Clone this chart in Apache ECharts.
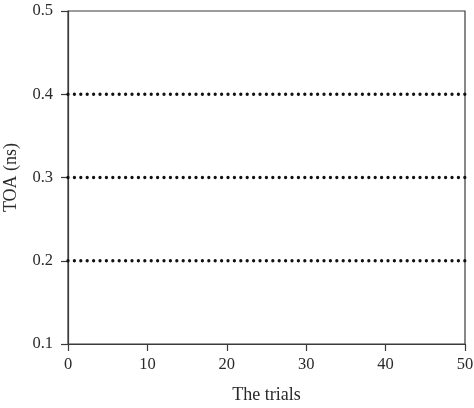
<!DOCTYPE html>
<html>
<head>
<meta charset="utf-8">
<script src="https://cdn.jsdelivr.net/npm/echarts@6/dist/echarts.min.js"></script>
<style>html,body{margin:0;padding:0;background:#fff}#c{width:474px;height:408px}</style>
</head>
<body>
<div id="c"></div>
<script>
const trials = [0,1,2,3,4,5,6,7,8,9,10,11,12,13,14,15,16,17,18,19,20,21,22,23,24,25,26,27,28,29,30,31,32,33,34,35,36,37,38,39,40,41,42,43,44,45,46,47,48,49,50];
const toaA = [0.4,0.4,0.4,0.4,0.4,0.4,0.4,0.4,0.4,0.4,0.4,0.4,0.4,0.4,0.4,0.4,0.4,0.4,0.4,0.4,0.4,0.4,0.4,0.4,0.4,0.4,0.4,0.4,0.4,0.4,0.4,0.4,0.4,0.4,0.4,0.4,0.4,0.4,0.4,0.4,0.4,0.4,0.4,0.4,0.4,0.4,0.4,0.4,0.4,0.4,0.4];
const toaB = [0.3,0.3,0.3,0.3,0.3,0.3,0.3,0.3,0.3,0.3,0.3,0.3,0.3,0.3,0.3,0.3,0.3,0.3,0.3,0.3,0.3,0.3,0.3,0.3,0.3,0.3,0.3,0.3,0.3,0.3,0.3,0.3,0.3,0.3,0.3,0.3,0.3,0.3,0.3,0.3,0.3,0.3,0.3,0.3,0.3,0.3,0.3,0.3,0.3,0.3,0.3];
const toaC = [0.2,0.2,0.2,0.2,0.2,0.2,0.2,0.2,0.2,0.2,0.2,0.2,0.2,0.2,0.2,0.2,0.2,0.2,0.2,0.2,0.2,0.2,0.2,0.2,0.2,0.2,0.2,0.2,0.2,0.2,0.2,0.2,0.2,0.2,0.2,0.2,0.2,0.2,0.2,0.2,0.2,0.2,0.2,0.2,0.2,0.2,0.2,0.2,0.2,0.2,0.2];
const xTicks = [0, 10, 20, 30, 40, 50];
const yTicks = [0.1, 0.2, 0.3, 0.4, 0.5];

const font = 'Liberation Serif';
const axisCol = '#3a3a3a';
const textCol = '#2a2a2a';
const pair = (vals) => trials.map((t, i) => [t, vals[i]]);
const dotted = (vals) => ({
  type: 'line', data: pair(vals), showSymbol: false, silent: true,
  lineStyle: { color: '#111', width: 3.3, type: [0, 6.4], cap: 'round' }
});

const chart = echarts.init(document.getElementById('c'), null, { renderer: 'canvas' });
chart.setOption({
  animation: false,
  grid: { left: 68, right: 9, top: 11, bottom: 64, containLabel: false, outerBoundsMode: 'none', show: true, borderColor: axisCol, borderWidth: 1.2, backgroundColor: 'transparent' },
  xAxis: {
    type: 'value', min: xTicks[0], max: xTicks[xTicks.length - 1], interval: 10,
    name: 'The trials', nameLocation: 'middle', nameGap: 42,
    nameTextStyle: { fontFamily: font, fontSize: 18, color: textCol },
    axisLine: { show: true, lineStyle: { color: axisCol, width: 1.2 } },
    axisTick: { show: true, inside: false, length: 7, lineStyle: { color: axisCol, width: 1.2 } },
    axisLabel: { fontFamily: font, fontSize: 16.5, color: textCol, margin: 12 },
    splitLine: { show: false }
  },
  yAxis: {
    type: 'value', min: yTicks[0], max: yTicks[yTicks.length - 1], interval: 0.1,
    name: 'TOA (ns)', nameLocation: 'middle', nameGap: 48,
    nameTextStyle: { fontFamily: font, fontSize: 18, color: textCol },
    axisLine: { show: true, lineStyle: { color: axisCol, width: 1.2 } },
    axisTick: { show: true, inside: false, length: 7, lineStyle: { color: axisCol, width: 1.2 } },
    axisLabel: { fontFamily: font, fontSize: 16.5, color: textCol, margin: 15, formatter: v => v.toFixed(1) },
    splitLine: { show: false }
  },
  series: [dotted(toaA), dotted(toaB), dotted(toaC)]
});
</script>
</body>
</html>
